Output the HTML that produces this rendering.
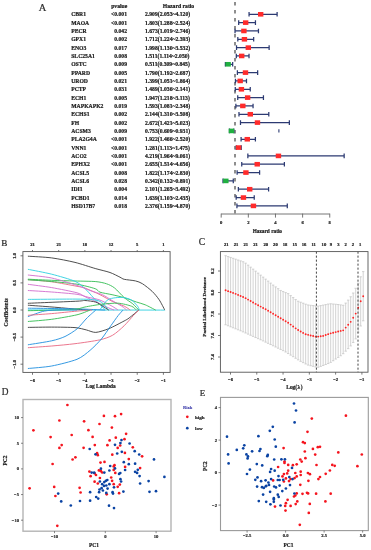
<!DOCTYPE html><html><head><meta charset="utf-8"><style>html,body{margin:0;padding:0;background:#fff;width:371px;height:550px;overflow:hidden}svg{display:block;will-change:transform}text{font-family:"Liberation Serif", serif;stroke:#1a1a1a;stroke-width:0.2px}</style></head><body>
<svg width="371" height="550" viewBox="0 0 371 550">
<rect width="371" height="550" fill="#fff"/>
<text x="42.5" y="10.5" font-size="10.4" text-anchor="middle" font-weight="normal" fill="#333">A</text>
<text x="119.2" y="7.9" font-size="5.7" text-anchor="middle" font-weight="bold" fill="#222">pvalue</text>
<text x="178.5" y="8.2" font-size="5.7" text-anchor="middle" font-weight="bold" fill="#222">Hazard ratio</text>
<g font-size="5.7" font-weight="bold" fill="#222">
<text x="71.2" y="16.3">CBR1</text>
<text x="127" y="16.3" text-anchor="end">&lt;0.001</text>
<text x="145" y="16.3">2.909(2.053~4.120)</text>
<text x="71.2" y="24.63">MAOA</text>
<text x="127" y="24.63" text-anchor="end">&lt;0.001</text>
<text x="145" y="24.63">1.803(1.288~2.524)</text>
<text x="71.2" y="32.96">PECR</text>
<text x="127" y="32.96" text-anchor="end">0.042</text>
<text x="145" y="32.96">1.673(1.019~2.746)</text>
<text x="71.2" y="41.29">GPX1</text>
<text x="127" y="41.29" text-anchor="end">0.002</text>
<text x="145" y="41.29">1.712(1.224~2.393)</text>
<text x="71.2" y="49.62">ENO3</text>
<text x="127" y="49.62" text-anchor="end">0.017</text>
<text x="145" y="49.62">1.998(1.130~3.532)</text>
<text x="71.2" y="57.95">SLC25A1</text>
<text x="127" y="57.95" text-anchor="end">0.008</text>
<text x="145" y="57.95">1.511(1.114~2.050)</text>
<text x="71.2" y="66.28">OSTC</text>
<text x="127" y="66.28" text-anchor="end">0.009</text>
<text x="145" y="66.28">0.511(0.309~0.845)</text>
<text x="71.2" y="74.61">PPARD</text>
<text x="127" y="74.61" text-anchor="end">0.005</text>
<text x="145" y="74.61">1.790(1.192~2.687)</text>
<text x="71.2" y="82.94">UROD</text>
<text x="127" y="82.94" text-anchor="end">0.021</text>
<text x="145" y="82.94">1.399(1.051~1.864)</text>
<text x="71.2" y="91.27">PCTP</text>
<text x="127" y="91.27" text-anchor="end">0.031</text>
<text x="145" y="91.27">1.489(1.036~2.141)</text>
<text x="71.2" y="99.6">ECH1</text>
<text x="127" y="99.6" text-anchor="end">0.005</text>
<text x="145" y="99.6">1.947(1.218~3.113)</text>
<text x="71.2" y="107.93">MAPKAPK2</text>
<text x="127" y="107.93" text-anchor="end">0.019</text>
<text x="145" y="107.93">1.593(1.081~2.348)</text>
<text x="71.2" y="116.26">ECHS1</text>
<text x="127" y="116.26" text-anchor="end">0.002</text>
<text x="145" y="116.26">2.144(1.310~3.508)</text>
<text x="71.2" y="124.59">FH</text>
<text x="127" y="124.59" text-anchor="end">0.002</text>
<text x="145" y="124.59">2.672(1.421~5.023)</text>
<text x="71.2" y="132.92">ACSM3</text>
<text x="127" y="132.92" text-anchor="end">0.009</text>
<text x="145" y="132.92">0.753(0.609~0.931)</text>
<text x="71.2" y="141.25">PLA2G4A</text>
<text x="127" y="141.25" text-anchor="end">&lt;0.001</text>
<text x="145" y="141.25">1.922(1.466~2.520)</text>
<text x="71.2" y="149.58">VNN1</text>
<text x="127" y="149.58" text-anchor="end">&lt;0.001</text>
<text x="145" y="149.58">1.281(1.113~1.475)</text>
<text x="71.2" y="157.91">ACO2</text>
<text x="127" y="157.91" text-anchor="end">&lt;0.001</text>
<text x="145" y="157.91">4.219(1.964~9.061)</text>
<text x="71.2" y="166.24">EPHX2</text>
<text x="127" y="166.24" text-anchor="end">&lt;0.001</text>
<text x="145" y="166.24">2.655(1.514~4.656)</text>
<text x="71.2" y="174.57">ACSL5</text>
<text x="127" y="174.57" text-anchor="end">0.008</text>
<text x="145" y="174.57">1.822(1.174~2.830)</text>
<text x="71.2" y="182.9">ACSL6</text>
<text x="127" y="182.9" text-anchor="end">0.028</text>
<text x="145" y="182.9">0.342(0.132~0.891)</text>
<text x="71.2" y="191.23">IDI1</text>
<text x="127" y="191.23" text-anchor="end">0.004</text>
<text x="145" y="191.23">2.101(1.265~3.492)</text>
<text x="71.2" y="199.56">PCBD1</text>
<text x="127" y="199.56" text-anchor="end">0.014</text>
<text x="145" y="199.56">1.639(1.103~2.435)</text>
<text x="71.2" y="207.89">HSD17B7</text>
<text x="127" y="207.89" text-anchor="end">0.018</text>
<text x="145" y="207.89">2.376(1.159~4.870)</text>
</g>
<line x1="235" y1="2" x2="235" y2="214" stroke="#444" stroke-width="1.2" stroke-dasharray="3.6 4.4"/>
<path d="M249.06 14.3H277.11M249.06 12V16.6M277.11 12V16.6" stroke="#2c3a72" stroke-width="1.25" fill="none"/>
<rect x="257.98" y="12" width="5.4" height="4.6" fill="#ff2b2b"/>
<path d="M238.68 22.63H255.45M238.68 20.33V24.93M255.45 20.33V24.93" stroke="#2c3a72" stroke-width="1.25" fill="none"/>
<rect x="242.97" y="20.33" width="5.4" height="4.6" fill="#ff2b2b"/>
<path d="M235.03 30.96H258.46M235.03 28.66V33.26M258.46 28.66V33.26" stroke="#2c3a72" stroke-width="1.25" fill="none"/>
<rect x="241.2" y="28.66" width="5.4" height="4.6" fill="#ff2b2b"/>
<path d="M237.81 39.29H253.67M237.81 36.99V41.59M253.67 36.99V41.59" stroke="#2c3a72" stroke-width="1.25" fill="none"/>
<rect x="241.73" y="36.99" width="5.4" height="4.6" fill="#ff2b2b"/>
<path d="M236.53 47.62H269.13M236.53 45.32V49.92M269.13 45.32V49.92" stroke="#2c3a72" stroke-width="1.25" fill="none"/>
<rect x="245.61" y="45.32" width="5.4" height="4.6" fill="#ff2b2b"/>
<path d="M236.32 55.95H249.02M236.32 53.65V58.25M249.02 53.65V58.25" stroke="#2c3a72" stroke-width="1.25" fill="none"/>
<rect x="239" y="53.65" width="5.4" height="4.6" fill="#ff2b2b"/>
<path d="M225.39 64.28H232.67M225.39 61.98V66.58M232.67 61.98V66.58" stroke="#2c3a72" stroke-width="1.25" fill="none"/>
<rect x="225.43" y="61.98" width="5.4" height="4.6" fill="#20b040"/>
<path d="M237.38 72.61H257.66M237.38 70.31V74.91M257.66 70.31V74.91" stroke="#2c3a72" stroke-width="1.25" fill="none"/>
<rect x="242.79" y="70.31" width="5.4" height="4.6" fill="#ff2b2b"/>
<path d="M235.46 80.94H246.49M235.46 78.64V83.24M246.49 78.64V83.24" stroke="#2c3a72" stroke-width="1.25" fill="none"/>
<rect x="237.48" y="78.64" width="5.4" height="4.6" fill="#ff2b2b"/>
<path d="M235.26 89.27H250.25M235.26 86.97V91.57M250.25 86.97V91.57" stroke="#2c3a72" stroke-width="1.25" fill="none"/>
<rect x="238.71" y="86.97" width="5.4" height="4.6" fill="#ff2b2b"/>
<path d="M237.73 97.6H263.44M237.73 95.3V99.9M263.44 95.3V99.9" stroke="#2c3a72" stroke-width="1.25" fill="none"/>
<rect x="244.92" y="95.3" width="5.4" height="4.6" fill="#ff2b2b"/>
<path d="M235.87 105.93H253.06M235.87 103.63V108.23M253.06 103.63V108.23" stroke="#2c3a72" stroke-width="1.25" fill="none"/>
<rect x="240.12" y="103.63" width="5.4" height="4.6" fill="#ff2b2b"/>
<path d="M238.98 114.26H268.8M238.98 111.96V116.56M268.8 111.96V116.56" stroke="#2c3a72" stroke-width="1.25" fill="none"/>
<rect x="247.59" y="111.96" width="5.4" height="4.6" fill="#ff2b2b"/>
<path d="M240.48 122.59H289.36M240.48 120.29V124.89M289.36 120.29V124.89" stroke="#2c3a72" stroke-width="1.25" fill="none"/>
<rect x="254.76" y="120.29" width="5.4" height="4.6" fill="#ff2b2b"/>
<path d="M229.46 130.92H233.83M229.46 128.62V133.22M233.83 128.62V133.22" stroke="#2c3a72" stroke-width="1.25" fill="none"/>
<rect x="228.72" y="128.62" width="5.4" height="4.6" fill="#20b040"/>
<path d="M241.09 139.25H255.4M241.09 136.95V141.55M255.4 136.95V141.55" stroke="#2c3a72" stroke-width="1.25" fill="none"/>
<rect x="244.58" y="136.95" width="5.4" height="4.6" fill="#ff2b2b"/>
<path d="M236.3 147.58H241.22M236.3 145.28V149.88M241.22 145.28V149.88" stroke="#2c3a72" stroke-width="1.25" fill="none"/>
<rect x="235.88" y="145.28" width="5.4" height="4.6" fill="#ff2b2b"/>
<path d="M247.85 155.91H344.16M247.85 153.61V158.21M344.16 153.61V158.21" stroke="#2c3a72" stroke-width="1.25" fill="none"/>
<rect x="275.75" y="153.61" width="5.4" height="4.6" fill="#ff2b2b"/>
<path d="M241.74 164.24H284.38M241.74 161.94V166.54M284.38 161.94V166.54" stroke="#2c3a72" stroke-width="1.25" fill="none"/>
<rect x="254.53" y="161.94" width="5.4" height="4.6" fill="#ff2b2b"/>
<path d="M237.13 172.57H259.6M237.13 170.27V174.87M259.6 170.27V174.87" stroke="#2c3a72" stroke-width="1.25" fill="none"/>
<rect x="243.22" y="170.27" width="5.4" height="4.6" fill="#ff2b2b"/>
<path d="M222.99 180.9H233.29M222.99 178.6V183.2M233.29 178.6V183.2" stroke="#2c3a72" stroke-width="1.25" fill="none"/>
<rect x="223.14" y="178.6" width="5.4" height="4.6" fill="#20b040"/>
<path d="M238.37 189.23H268.59M238.37 186.93V191.53M268.59 186.93V191.53" stroke="#2c3a72" stroke-width="1.25" fill="none"/>
<rect x="247.01" y="186.93" width="5.4" height="4.6" fill="#ff2b2b"/>
<path d="M236.17 197.56H254.24M236.17 195.26V199.86M254.24 195.26V199.86" stroke="#2c3a72" stroke-width="1.25" fill="none"/>
<rect x="240.74" y="195.26" width="5.4" height="4.6" fill="#ff2b2b"/>
<path d="M236.93 205.89H287.29M236.93 203.59V208.19M287.29 203.59V208.19" stroke="#2c3a72" stroke-width="1.25" fill="none"/>
<rect x="250.74" y="203.59" width="5.4" height="4.6" fill="#ff2b2b"/>
<line x1="278.9" y1="129.32" x2="278.9" y2="132.52" stroke="#2c3a72" stroke-width="1.1"/>
<line x1="221.2" y1="214" x2="329.76" y2="214" stroke="#666" stroke-width="0.9"/>
<line x1="221.2" y1="213.6" x2="221.2" y2="217.6" stroke="#666" stroke-width="0.9"/>
<text x="221.2" y="224.3" font-size="4.6" text-anchor="middle" font-weight="bold" fill="#222">0</text>
<line x1="248.34" y1="213.6" x2="248.34" y2="217.6" stroke="#666" stroke-width="0.9"/>
<text x="248.34" y="224.3" font-size="4.6" text-anchor="middle" font-weight="bold" fill="#222">2</text>
<line x1="275.48" y1="213.6" x2="275.48" y2="217.6" stroke="#666" stroke-width="0.9"/>
<text x="275.48" y="224.3" font-size="4.6" text-anchor="middle" font-weight="bold" fill="#222">4</text>
<line x1="302.62" y1="213.6" x2="302.62" y2="217.6" stroke="#666" stroke-width="0.9"/>
<text x="302.62" y="224.3" font-size="4.6" text-anchor="middle" font-weight="bold" fill="#222">6</text>
<line x1="329.76" y1="213.6" x2="329.76" y2="217.6" stroke="#666" stroke-width="0.9"/>
<text x="329.76" y="224.3" font-size="4.6" text-anchor="middle" font-weight="bold" fill="#222">8</text>
<text x="267.4" y="233" font-size="5.3" text-anchor="middle" font-weight="bold" fill="#222">Hazard ratio</text>
<text x="4.2" y="245.8" font-size="9.2" text-anchor="middle" font-weight="normal" fill="#333">B</text>
<g fill="none" stroke-width="0.95">
<path d="M27.9 309.9C46.15 309.93 146.55 310.07 164.8 310.1" stroke="#38d2e2"/>
<path d="M27.9 256.2C31.07 256.43 45.42 257.07 51.7 257.9C57.98 258.73 69.2 260.99 75 262.4C80.8 263.81 90.53 267.15 95.2 268.5C99.87 269.85 106.69 271.34 110 272.5C113.31 273.66 118.11 276.29 120 277.2C121.89 278.11 122.15 278.81 124.2 279.3C126.25 279.79 132.97 280.31 135.4 280.9C137.83 281.49 140.16 282.3 142.4 283.7C144.64 285.1 149.96 289.25 152.2 291.4C154.44 293.55 157.52 297.31 159.2 299.8C160.88 302.29 164.05 308.73 164.8 310.1" stroke="#444444"/>
<path d="M27.9 279.6C31.07 279.89 45.15 280.91 51.7 281.8C58.25 282.69 72.56 285.46 77 286.3C81.44 287.14 81.93 286.98 85 288.1C88.07 289.22 96.39 292.94 100 294.7C103.61 296.46 108.86 299.77 112.1 301.3C115.34 302.83 121.87 305.03 124.3 306.2C126.73 307.37 129.5 309.58 130.3 310.1" stroke="#ea7088"/>
<path d="M27.9 279.2C31.07 279.35 45.42 280.06 51.7 280.3C57.98 280.54 69.12 280.83 75 281C80.88 281.17 91.59 281.23 95.8 281.6C100.01 281.97 104.09 282.95 106.6 283.8C109.11 284.65 112.24 286.15 114.6 288C116.96 289.85 121.89 295.59 124.3 297.7C126.71 299.81 130.77 302.15 132.7 303.8C134.63 305.45 137.99 309.26 138.8 310.1" stroke="#3cc05a"/>
<path d="M27.9 279.8C31.07 280.03 45.15 280.91 51.7 281.5C58.25 282.09 71.2 283.24 77 284.2C82.8 285.16 92.13 287.63 95.2 288.7C98.27 289.77 97.75 291.4 100 292.2C102.25 293 108.86 293.97 112.1 294.7C115.34 295.43 121.06 296.73 124.3 297.7C127.54 298.67 133.61 301.05 136.4 302C139.19 302.95 142.63 303.72 145.2 304.8C147.77 305.88 154.3 309.39 155.7 310.1" stroke="#3cc05a"/>
<path d="M27.9 269.3C31.07 269.95 45.42 272.6 51.7 274.2C57.98 275.8 70.56 279.38 75 281.3C79.44 283.22 82.8 286.69 85 288.6C87.2 290.51 89.78 293.73 91.5 295.6C93.22 297.47 96.03 300.67 97.9 302.6C99.77 304.53 104.49 309.1 105.5 310.1" stroke="#38d2e2"/>
<path d="M27.9 275C31.07 275.4 45.15 276.61 51.7 278C58.25 279.39 71.89 283.73 77 285.4C82.11 287.07 86.61 289.26 90 290.5C93.39 291.74 99.47 293.37 102.4 294.7C105.33 296.03 109.41 298.97 112 300.5C114.59 302.03 119.84 304.92 121.8 306.2C123.76 307.48 126.05 309.58 126.7 310.1" stroke="#d474d0"/>
<path d="M27.9 284.3C31.07 284.74 45.15 286.47 51.7 287.6C58.25 288.73 72.56 291.59 77 292.8C81.44 294.01 82.49 295.53 85 296.7C87.51 297.87 92.92 300.23 95.8 301.6C98.68 302.97 104.16 305.87 106.6 307C109.04 308.13 113.1 309.69 114.1 310.1" stroke="#d474d0"/>
<path d="M27.9 290.5C31.07 290.7 45.15 291.49 51.7 292C58.25 292.51 72.16 293.61 77 294.3C81.84 294.99 84.93 296.43 88 297.2C91.07 297.97 96.79 298.9 100 300.1C103.21 301.3 109.67 304.87 112.1 306.2C114.53 307.53 117.39 309.58 118.2 310.1" stroke="#d474d0"/>
<path d="M27.9 299.4C34.45 299.36 67.95 299.02 77 299.1C86.05 299.18 92.33 299.41 95.8 300C99.27 300.59 101.31 302.15 103 303.5C104.69 304.85 107.77 309.22 108.5 310.1" stroke="#38d2e2"/>
<path d="M100 309.8C100.97 308.51 105.19 301.71 107.3 300.1C109.41 298.49 113.53 298.02 115.8 297.7C118.07 297.38 122.21 297.38 124.3 297.7C126.39 298.02 129.73 298.97 131.5 300.1C133.27 301.23 136.55 304.87 137.6 306.2C138.65 307.53 139.16 309.58 139.4 310.1" stroke="#38d2e2"/>
<path d="M27.9 303.3C34.45 303.02 69.39 301.57 77 301.2C84.61 300.83 82.49 300.38 85 300.5C87.51 300.62 93.49 301.38 95.8 302.1C98.11 302.82 100.58 304.83 102.3 305.9C104.02 306.97 107.85 309.54 108.7 310.1" stroke="#444444"/>
<path d="M27.9 305.2C31.11 305.44 45.45 306.47 52 307C58.55 307.53 72.2 308.79 77 309.2C81.8 309.61 86.53 309.98 88 310.1" stroke="#444444"/>
<path d="M27.9 308.2C34.45 308.29 66.73 308.65 77 308.9C87.27 309.15 101.18 309.94 104.9 310.1" stroke="#2b95e0"/>
<path d="M27.9 310.7C32.18 310.61 53.45 310.23 60 310C66.55 309.77 73.67 309.4 77 309C80.33 308.6 81.77 307.63 85 307C88.23 306.37 96.77 304.81 101.2 304.3C105.63 303.79 114.16 302.95 118.2 303.2C122.24 303.45 129.07 305.28 131.5 306.2C133.93 307.12 135.75 309.58 136.4 310.1" stroke="#3cc05a"/>
<path d="M27.9 316.6C30.07 315.87 39.92 311.99 44.2 311.1C48.48 310.21 55.63 310.03 60 309.9C64.37 309.77 74.73 310.07 77 310.1" stroke="#2b95e0"/>
<path d="M27.9 315.3C31.07 315.07 45.15 314.16 51.7 313.6C58.25 313.04 71.63 311.57 77 311.1C82.37 310.63 90 310.23 92 310.1" stroke="#ea7088"/>
<path d="M27.9 321.5C31.07 321.21 45.15 320.19 51.7 319.3C58.25 318.41 71.89 316.03 77 314.8C82.11 313.57 88.27 310.73 90 310.1" stroke="#3cc05a"/>
<path d="M27.9 327.4C31.07 327.36 45.42 327.07 51.7 327.1C57.98 327.13 70.39 327.23 75 327.6C79.61 327.97 83.53 329.26 86.3 329.9C89.07 330.54 92.77 332.57 95.8 332.4C98.83 332.23 105.23 330.12 109 328.6C112.77 327.08 121.42 322.41 124.1 321C126.78 319.59 127.14 319.45 129.1 318C131.06 316.55 137.51 311.15 138.8 310.1" stroke="#444444"/>
<path d="M27.9 344.8C31.07 344.27 46.75 341.91 51.7 340.8C56.65 339.69 61.63 338.09 65 336.5C68.37 334.91 74.2 331.23 77 328.9C79.8 326.57 84.07 321.01 86 319C87.93 316.99 90.19 314.99 91.5 313.8C92.81 312.61 95.23 310.59 95.8 310.1" stroke="#2b95e0"/>
<path d="M27.9 347.7C31.07 347.47 45.42 346.53 51.7 346C57.98 345.47 68.63 344.51 75 343.7C81.37 342.89 94.47 341.03 99.5 339.9C104.53 338.77 109.42 337.08 112.7 335.2C115.98 333.32 121.33 328.44 124.1 325.8C126.87 323.16 131.54 317.49 133.5 315.4C135.46 313.31 138.09 310.81 138.8 310.1" stroke="#ea7088"/>
<path d="M27.9 368.5C31.07 368.17 45.15 367.23 51.7 366C58.25 364.77 71.88 361.39 77 359.3C82.12 357.21 86.85 353.01 90.1 350.3C93.35 347.59 98.64 342.27 101.4 339C104.16 335.73 108.56 328.93 110.8 325.8C113.04 322.67 116.57 317.59 118.2 315.5C119.83 313.41 122.36 310.82 123 310.1" stroke="#2b95e0"/>
</g>
<rect x="22.9" y="251.6" width="147.2" height="120.8" fill="none" stroke="#555" stroke-width="0.9"/>
<path d="M32.5 372.4V374.8M32.5 251.6V250M58.68 372.4V374.8M58.68 251.6V250M84.86 372.4V374.8M84.86 251.6V250M111.04 372.4V374.8M111.04 251.6V250M137.22 372.4V374.8M137.22 251.6V250M163.4 372.4V374.8M163.4 251.6V250M22.9 255.8H20.5M22.9 282.9H20.5M22.9 310H20.5M22.9 337.1H20.5M22.9 364.2H20.5" stroke="#555" stroke-width="0.8"/>
<g font-size="4.6" font-weight="bold" fill="#222">
<text x="32.5" y="245.9" text-anchor="middle">21</text>
<text x="32.5" y="381.6" text-anchor="middle">&#8722;6</text>
<text x="58.68" y="245.9" text-anchor="middle">21</text>
<text x="58.68" y="381.6" text-anchor="middle">&#8722;5</text>
<text x="84.86" y="245.9" text-anchor="middle">18</text>
<text x="84.86" y="381.6" text-anchor="middle">&#8722;4</text>
<text x="111.04" y="245.9" text-anchor="middle">12</text>
<text x="111.04" y="381.6" text-anchor="middle">&#8722;3</text>
<text x="137.22" y="245.9" text-anchor="middle">5</text>
<text x="137.22" y="381.6" text-anchor="middle">&#8722;2</text>
<text x="163.4" y="245.9" text-anchor="middle">1</text>
<text x="163.4" y="381.6" text-anchor="middle">&#8722;1</text>
<text x="16.3" y="255.8" text-anchor="middle" transform="rotate(-90 16.3 255.8)">1.0</text>
<text x="16.3" y="282.9" text-anchor="middle" transform="rotate(-90 16.3 282.9)">0.5</text>
<text x="16.3" y="310" text-anchor="middle" transform="rotate(-90 16.3 310)">0.0</text>
<text x="16.3" y="337.1" text-anchor="middle" transform="rotate(-90 16.3 337.1)">&#8722;0.5</text>
<text x="16.3" y="364.2" text-anchor="middle" transform="rotate(-90 16.3 364.2)">&#8722;1.0</text>
</g>
<text x="8.4" y="312.4" font-size="5.6" text-anchor="middle" font-weight="bold" fill="#222" transform="rotate(-90 8.4 312.4)">Coefficients</text>
<text x="100.7" y="388.4" font-size="5.4" text-anchor="middle" font-weight="bold" fill="#222">Log Lambda</text>
<text x="202" y="245.4" font-size="9.6" text-anchor="middle" font-weight="normal" fill="#333">C</text>
<path d="M225.6 255.7V324.78M224.4 255.7H226.8M224.4 324.78H226.8M228.1 256.56V325.78M226.9 256.56H229.3M226.9 325.78H229.3M230.6 257.43V326.79M229.4 257.43H231.8M229.4 326.79H231.8M233.11 258.29V327.79M231.91 258.29H234.31M231.91 327.79H234.31M235.61 259.16V328.8M234.41 259.16H236.81M234.41 328.8H236.81M238.11 260.02V329.8M236.91 260.02H239.31M236.91 329.8H239.31M240.61 260.89V330.8M239.41 260.89H241.81M239.41 330.8H241.81M243.11 261.75V331.88M241.91 261.75H244.31M241.91 331.88H244.31M245.61 263.17V333.01M244.41 263.17H246.81M244.41 333.01H246.81M248.12 265.16V334.14M246.92 265.16H249.32M246.92 334.14H249.32M250.62 267.16V335.27M249.42 267.16H251.82M249.42 335.27H251.82M253.12 269.15V336.4M251.92 269.15H254.32M251.92 336.4H254.32M255.62 271.15V337.53M254.42 271.15H256.82M254.42 337.53H256.82M258.12 273.15V338.65M256.92 273.15H259.32M256.92 338.65H259.32M260.63 275.14V339.78M259.43 275.14H261.83M259.43 339.78H261.83M263.13 277.13V340.91M261.93 277.13H264.33M261.93 340.91H264.33M265.63 279.13V342.13M264.43 279.13H266.83M264.43 342.13H266.83M268.13 281.12V343.35M266.93 281.12H269.33M266.93 343.35H269.33M270.63 283.11V344.56M269.43 283.11H271.83M269.43 344.56H271.83M273.13 285.1V345.78M271.93 285.1H274.33M271.93 345.78H274.33M275.64 286.88V346.99M274.44 286.88H276.84M274.44 346.99H276.84M278.14 288.66V348.21M276.94 288.66H279.34M276.94 348.21H279.34M280.64 290.44V349.43M279.44 290.44H281.84M279.44 349.43H281.84M283.14 291.57V350.64M281.94 291.57H284.34M281.94 350.64H284.34M285.64 292.6V351.99M284.44 292.6H286.84M284.44 351.99H286.84M288.15 293.64V353.56M286.95 293.64H289.35M286.95 353.56H289.35M290.65 295.62V355.13M289.45 295.62H291.85M289.45 355.13H291.85M293.15 297.61V356.7M291.95 297.61H294.35M291.95 356.7H294.35M295.65 299.59V358.27M294.45 299.59H296.85M294.45 358.27H296.85M298.15 301.23V359.84M296.95 301.23H299.35M296.95 359.84H299.35M300.65 302.22V361.34M299.45 302.22H301.85M299.45 361.34H301.85M303.16 303.2V362.64M301.96 303.2H304.36M301.96 362.64H304.36M305.66 304.18V363.94M304.46 304.18H306.86M304.46 363.94H306.86M308.16 304.98V365.07M306.96 304.98H309.36M306.96 365.07H309.36M310.66 305.3V365.71M309.46 305.3H311.86M309.46 365.71H311.86M313.16 305.62V366.34M311.96 305.62H314.36M311.96 366.34H314.36M315.67 305.94V366.98M314.47 305.94H316.87M314.47 366.98H316.87M318.17 306.11V367.32M316.97 306.11H319.37M316.97 367.32H319.37M320.67 305.61V366.38M319.47 305.61H321.87M319.47 366.38H321.87M323.17 305.12V365.44M321.97 305.12H324.37M321.97 365.44H324.37M325.67 304.61V364.49M324.47 304.61H326.87M324.47 364.49H326.87M328.17 304.07V363.55M326.97 304.07H329.37M326.97 363.55H329.37M330.68 303.78V362.38M329.48 303.78H331.88M329.48 362.38H331.88M333.18 304.02V360.72M331.98 304.02H334.38M331.98 360.72H334.38M335.68 304.27V359.06M334.48 304.27H336.88M334.48 359.06H336.88M338.18 304.53V357.4M336.98 304.53H339.38M336.98 357.4H339.38M340.68 304.9V355.74M339.48 304.9H341.88M339.48 355.74H341.88M343.19 305.27V353.7M341.99 305.27H344.39M341.99 353.7H344.39M345.69 303.1V351.17M344.49 303.1H346.89M344.49 351.17H346.89M348.19 300.11V348.64M346.99 300.11H349.39M346.99 348.64H349.39M350.69 296.75V345.92M349.49 296.75H351.89M349.49 345.92H351.89M353.19 293.03V342.47M351.99 293.03H354.39M351.99 342.47H354.39M355.69 288.31V338.91M354.49 288.31H356.89M354.49 338.91H356.89M358.2 283.2V332.21M357 283.2H359.4M357 332.21H359.4M360.7 276.8V326M359.5 276.8H361.9M359.5 326H361.9M363.2 271.6V320.8M362 271.6H364.4M362 320.8H364.4" stroke="#c4c4c4" stroke-width="0.75" fill="none"/>
<g fill="#ff2222">
<circle cx="225.6" cy="290.3" r="0.95"/>
<circle cx="228.1" cy="291.13" r="0.95"/>
<circle cx="230.6" cy="292.03" r="0.95"/>
<circle cx="233.11" cy="292.92" r="0.95"/>
<circle cx="235.61" cy="293.86" r="0.95"/>
<circle cx="238.11" cy="294.91" r="0.95"/>
<circle cx="240.61" cy="295.96" r="0.95"/>
<circle cx="243.11" cy="297.01" r="0.95"/>
<circle cx="245.61" cy="298.15" r="0.95"/>
<circle cx="248.12" cy="299.59" r="0.95"/>
<circle cx="250.62" cy="301.03" r="0.95"/>
<circle cx="253.12" cy="302.46" r="0.95"/>
<circle cx="255.62" cy="303.9" r="0.95"/>
<circle cx="258.12" cy="305.25" r="0.95"/>
<circle cx="260.63" cy="306.59" r="0.95"/>
<circle cx="263.13" cy="307.94" r="0.95"/>
<circle cx="265.63" cy="309.28" r="0.95"/>
<circle cx="268.13" cy="310.73" r="0.95"/>
<circle cx="270.63" cy="312.25" r="0.95"/>
<circle cx="273.13" cy="313.77" r="0.95"/>
<circle cx="275.64" cy="315.29" r="0.95"/>
<circle cx="278.14" cy="316.8" r="0.95"/>
<circle cx="280.64" cy="318.28" r="0.95"/>
<circle cx="283.14" cy="319.76" r="0.95"/>
<circle cx="285.64" cy="321.24" r="0.95"/>
<circle cx="288.15" cy="322.73" r="0.95"/>
<circle cx="290.65" cy="324.6" r="0.95"/>
<circle cx="293.15" cy="326.47" r="0.95"/>
<circle cx="295.65" cy="328.34" r="0.95"/>
<circle cx="298.15" cy="329.99" r="0.95"/>
<circle cx="300.65" cy="331.44" r="0.95"/>
<circle cx="303.16" cy="332.9" r="0.95"/>
<circle cx="305.66" cy="334.26" r="0.95"/>
<circle cx="308.16" cy="334.86" r="0.95"/>
<circle cx="310.66" cy="335.47" r="0.95"/>
<circle cx="313.16" cy="336.07" r="0.95"/>
<circle cx="315.67" cy="336.67" r="0.95"/>
<circle cx="318.17" cy="336.58" r="0.95"/>
<circle cx="320.67" cy="336.31" r="0.95"/>
<circle cx="323.17" cy="335.9" r="0.95"/>
<circle cx="325.67" cy="335.02" r="0.95"/>
<circle cx="328.17" cy="334.14" r="0.95"/>
<circle cx="330.68" cy="333.33" r="0.95"/>
<circle cx="333.18" cy="332.71" r="0.95"/>
<circle cx="335.68" cy="332.08" r="0.95"/>
<circle cx="338.18" cy="331.46" r="0.95"/>
<circle cx="340.68" cy="330.9" r="0.95"/>
<circle cx="343.19" cy="330.35" r="0.95"/>
<circle cx="345.69" cy="327.6" r="0.95"/>
<circle cx="348.19" cy="324.81" r="0.95"/>
<circle cx="350.69" cy="321.83" r="0.95"/>
<circle cx="353.19" cy="317.75" r="0.95"/>
<circle cx="355.69" cy="313.61" r="0.95"/>
<circle cx="358.2" cy="307.7" r="0.95"/>
<circle cx="360.7" cy="301.3" r="0.95"/>
<circle cx="363.2" cy="296.3" r="0.95"/>
</g>
<line x1="316.4" y1="251.6" x2="316.4" y2="372.2" stroke="#3a3a3a" stroke-width="0.95" stroke-dasharray="2.1 1.9"/>
<line x1="358" y1="251.6" x2="358" y2="372.2" stroke="#3a3a3a" stroke-width="0.95" stroke-dasharray="2.1 1.9"/>
<rect x="220.4" y="251.6" width="147.6" height="120.6" fill="none" stroke="#555" stroke-width="0.9"/>
<path d="M230.5 372.2V374.6M256.78 372.2V374.6M283.06 372.2V374.6M309.34 372.2V374.6M335.62 372.2V374.6M361.9 372.2V374.6M220.4 357H218M220.4 335.5H218M220.4 314H218M220.4 292.5H218M220.4 271H218" stroke="#555" stroke-width="0.8"/>
<g font-size="4.6" font-weight="bold" fill="#222">
<text x="226.2" y="245.6" text-anchor="middle">21</text>
<text x="236.1" y="245.6" text-anchor="middle">21</text>
<text x="245.8" y="245.6" text-anchor="middle">21</text>
<text x="255.5" y="245.6" text-anchor="middle">21</text>
<text x="265.7" y="245.6" text-anchor="middle">20</text>
<text x="275.4" y="245.6" text-anchor="middle">20</text>
<text x="285.1" y="245.6" text-anchor="middle">18</text>
<text x="294.7" y="245.6" text-anchor="middle">15</text>
<text x="304" y="245.6" text-anchor="middle">16</text>
<text x="313.7" y="245.6" text-anchor="middle">11</text>
<text x="323.9" y="245.6" text-anchor="middle">10</text>
<text x="331" y="245.6" text-anchor="middle">9</text>
<text x="338.5" y="245.6" text-anchor="middle">3</text>
<text x="345.6" y="245.6" text-anchor="middle">2</text>
<text x="353" y="245.6" text-anchor="middle">2</text>
<text x="360.1" y="245.6" text-anchor="middle">1</text>
<text x="230.5" y="381.4" text-anchor="middle">&#8722;6</text>
<text x="256.78" y="381.4" text-anchor="middle">&#8722;5</text>
<text x="283.06" y="381.4" text-anchor="middle">&#8722;4</text>
<text x="309.34" y="381.4" text-anchor="middle">&#8722;3</text>
<text x="335.62" y="381.4" text-anchor="middle">&#8722;2</text>
<text x="361.9" y="381.4" text-anchor="middle">&#8722;1</text>
<text x="213.9" y="357" text-anchor="middle" transform="rotate(-90 213.9 357)">7.4</text>
<text x="213.9" y="335.5" text-anchor="middle" transform="rotate(-90 213.9 335.5)">7.6</text>
<text x="213.9" y="314" text-anchor="middle" transform="rotate(-90 213.9 314)">7.8</text>
<text x="213.9" y="292.5" text-anchor="middle" transform="rotate(-90 213.9 292.5)">8.0</text>
<text x="213.9" y="271" text-anchor="middle" transform="rotate(-90 213.9 271)">8.2</text>
</g>
<text x="205.8" y="306.8" font-size="5" text-anchor="middle" font-weight="bold" fill="#222" transform="rotate(-90 205.8 306.8)">Partial Likelihood Deviance</text>
<text x="294.4" y="388.9" font-size="5.4" text-anchor="middle" font-weight="bold" fill="#222">Log(&#8202;&#955;&#8202;)</text>
<rect x="23" y="399.5" width="148" height="131.7" fill="none" stroke="#b4b4b4" stroke-width="1.4"/>
<path d="M54.5 531.2V533.2M105.3 531.2V533.2M156.1 531.2V533.2M23 417.6H21M23 443.25H21M23 468.9H21M23 494.55H21M23 520.2H21" stroke="#555" stroke-width="0.7"/>
<g font-size="4.6" font-weight="bold" fill="#444" style="stroke-width:0.05px">
<text x="19" y="419.1" text-anchor="end">10</text>
<text x="19" y="444.75" text-anchor="end">5</text>
<text x="19" y="470.4" text-anchor="end">0</text>
<text x="19" y="496.05" text-anchor="end">&#8722;5</text>
<text x="19" y="521.7" text-anchor="end">&#8722;10</text>
<text x="54.5" y="538" text-anchor="middle">&#8722;10</text>
<text x="105.3" y="538" text-anchor="middle">0</text>
<text x="156.1" y="538" text-anchor="middle">10</text>
</g>
<text x="5.2" y="394.8" font-size="9.3" text-anchor="middle" font-weight="normal" fill="#333">D</text>
<text x="94" y="546.9" font-size="5.4" text-anchor="middle" font-weight="bold" fill="#222">PC1</text>
<text x="7.4" y="460.5" font-size="5.4" text-anchor="middle" font-weight="bold" fill="#222" transform="rotate(-90 7.4 460.5)">PC2</text>
<g fill="#f5141e">
<circle cx="33.4" cy="430.3" r="1.35"/>
<circle cx="50.6" cy="437.1" r="1.35"/>
<circle cx="52.6" cy="464" r="1.35"/>
<circle cx="59.4" cy="420.5" r="1.35"/>
<circle cx="59.4" cy="447.9" r="1.35"/>
<circle cx="61.7" cy="445.1" r="1.35"/>
<circle cx="67.4" cy="405" r="1.35"/>
<circle cx="71.7" cy="435" r="1.35"/>
<circle cx="72.6" cy="459.5" r="1.35"/>
<circle cx="75.4" cy="457.3" r="1.35"/>
<circle cx="83.6" cy="447.8" r="1.35"/>
<circle cx="84.1" cy="421.3" r="1.35"/>
<circle cx="88.4" cy="430.2" r="1.35"/>
<circle cx="92.6" cy="436.9" r="1.35"/>
<circle cx="94.8" cy="445.1" r="1.35"/>
<circle cx="97.1" cy="453.2" r="1.35"/>
<circle cx="97.8" cy="455.2" r="1.35"/>
<circle cx="99.5" cy="424" r="1.35"/>
<circle cx="103.9" cy="415.9" r="1.35"/>
<circle cx="107.4" cy="445.2" r="1.35"/>
<circle cx="109.6" cy="440.4" r="1.35"/>
<circle cx="111.9" cy="427.6" r="1.35"/>
<circle cx="115" cy="416.2" r="1.35"/>
<circle cx="115.8" cy="437.7" r="1.35"/>
<circle cx="120.2" cy="445.5" r="1.35"/>
<circle cx="117.7" cy="447.9" r="1.35"/>
<circle cx="121.1" cy="414.1" r="1.35"/>
<circle cx="124.5" cy="439.2" r="1.35"/>
<circle cx="124.9" cy="452.9" r="1.35"/>
<circle cx="126.1" cy="433.8" r="1.35"/>
<circle cx="112.3" cy="454.7" r="1.35"/>
<circle cx="128.8" cy="459.1" r="1.35"/>
<circle cx="132.8" cy="447.3" r="1.35"/>
<circle cx="142.1" cy="456.3" r="1.35"/>
<circle cx="100.5" cy="462.6" r="1.35"/>
<circle cx="104.5" cy="461.9" r="1.35"/>
<circle cx="113.7" cy="466.4" r="1.35"/>
<circle cx="114.5" cy="465.2" r="1.35"/>
<circle cx="125.1" cy="466.9" r="1.35"/>
<circle cx="113.7" cy="469.9" r="1.35"/>
<circle cx="98.9" cy="470.4" r="1.35"/>
<circle cx="100.9" cy="471.2" r="1.35"/>
<circle cx="102.2" cy="472.5" r="1.35"/>
<circle cx="89.4" cy="471.6" r="1.35"/>
<circle cx="94.6" cy="473.3" r="1.35"/>
<circle cx="96" cy="475" r="1.35"/>
<circle cx="90.6" cy="476.2" r="1.35"/>
<circle cx="115.3" cy="472.9" r="1.35"/>
<circle cx="99.9" cy="478" r="1.35"/>
<circle cx="111.2" cy="477.5" r="1.35"/>
<circle cx="140.1" cy="468.1" r="1.35"/>
<circle cx="29.6" cy="488.3" r="1.35"/>
<circle cx="54.2" cy="486.9" r="1.35"/>
<circle cx="55.4" cy="496" r="1.35"/>
<circle cx="57.3" cy="525.8" r="1.35"/>
<circle cx="79.6" cy="487.8" r="1.35"/>
<circle cx="80.6" cy="492.5" r="1.35"/>
<circle cx="94.6" cy="481.7" r="1.35"/>
<circle cx="97.8" cy="483.5" r="1.35"/>
<circle cx="112.1" cy="480.8" r="1.35"/>
<circle cx="113.7" cy="484.2" r="1.35"/>
<circle cx="119.8" cy="484.6" r="1.35"/>
<circle cx="117.7" cy="486.8" r="1.35"/>
<circle cx="106.7" cy="494.3" r="1.35"/>
<circle cx="119.1" cy="493.2" r="1.35"/>
</g><g fill="#0a43a3">
<circle cx="89.7" cy="449" r="1.35"/>
<circle cx="95.5" cy="454.3" r="1.35"/>
<circle cx="121.5" cy="440.1" r="1.35"/>
<circle cx="120.4" cy="443.1" r="1.35"/>
<circle cx="115" cy="444.8" r="1.35"/>
<circle cx="129.6" cy="443.5" r="1.35"/>
<circle cx="121.8" cy="451.8" r="1.35"/>
<circle cx="117.2" cy="453.5" r="1.35"/>
<circle cx="123.8" cy="462.2" r="1.35"/>
<circle cx="128.8" cy="464.2" r="1.35"/>
<circle cx="110.2" cy="466" r="1.35"/>
<circle cx="115" cy="468.4" r="1.35"/>
<circle cx="109.4" cy="470.5" r="1.35"/>
<circle cx="125.1" cy="470" r="1.35"/>
<circle cx="100.9" cy="468.7" r="1.35"/>
<circle cx="104.3" cy="472.6" r="1.35"/>
<circle cx="91.7" cy="472.6" r="1.35"/>
<circle cx="94.2" cy="472.7" r="1.35"/>
<circle cx="119.1" cy="473.9" r="1.35"/>
<circle cx="120.3" cy="473" r="1.35"/>
<circle cx="120.4" cy="479.2" r="1.35"/>
<circle cx="107.3" cy="480" r="1.35"/>
<circle cx="134.7" cy="451.2" r="1.35"/>
<circle cx="139.2" cy="454.5" r="1.35"/>
<circle cx="154" cy="459.4" r="1.35"/>
<circle cx="135.1" cy="463.7" r="1.35"/>
<circle cx="137.8" cy="469.8" r="1.35"/>
<circle cx="135.1" cy="471.8" r="1.35"/>
<circle cx="137.1" cy="472.9" r="1.35"/>
<circle cx="139.6" cy="476.1" r="1.35"/>
<circle cx="164.4" cy="476.9" r="1.35"/>
<circle cx="148.6" cy="481.1" r="1.35"/>
<circle cx="140.1" cy="483.5" r="1.35"/>
<circle cx="149.5" cy="491.8" r="1.35"/>
<circle cx="156" cy="491.2" r="1.35"/>
<circle cx="99.9" cy="481.5" r="1.35"/>
<circle cx="104.3" cy="482.1" r="1.35"/>
<circle cx="105.9" cy="480.8" r="1.35"/>
<circle cx="121.1" cy="481.5" r="1.35"/>
<circle cx="102.2" cy="484.2" r="1.35"/>
<circle cx="104" cy="485.9" r="1.35"/>
<circle cx="106.3" cy="485.5" r="1.35"/>
<circle cx="109.4" cy="484.2" r="1.35"/>
<circle cx="114" cy="487.3" r="1.35"/>
<circle cx="107.6" cy="488.6" r="1.35"/>
<circle cx="101.6" cy="488.2" r="1.35"/>
<circle cx="99.5" cy="489.5" r="1.35"/>
<circle cx="102.9" cy="490.5" r="1.35"/>
<circle cx="99.1" cy="492.2" r="1.35"/>
<circle cx="106.3" cy="492.9" r="1.35"/>
<circle cx="112.6" cy="492.2" r="1.35"/>
<circle cx="113" cy="493.6" r="1.35"/>
<circle cx="123.4" cy="491.6" r="1.35"/>
<circle cx="90.1" cy="492.2" r="1.35"/>
<circle cx="96.2" cy="497" r="1.35"/>
<circle cx="98.2" cy="498.6" r="1.35"/>
<circle cx="80" cy="501" r="1.35"/>
<circle cx="90.1" cy="500.7" r="1.35"/>
<circle cx="109" cy="505.7" r="1.35"/>
<circle cx="114" cy="508.1" r="1.35"/>
<circle cx="58.2" cy="493.6" r="1.35"/>
<circle cx="61.2" cy="501.4" r="1.35"/>
<circle cx="70.8" cy="505.5" r="1.35"/>
</g>
<text x="187.6" y="408.8" font-size="5" text-anchor="middle" font-weight="normal" fill="#3c3caa" style="stroke:#3c3caa">Risk</text>
<circle cx="187.3" cy="416.8" r="1.35" fill="#f5141e"/>
<circle cx="187.3" cy="428.2" r="1.35" fill="#0a43a3"/>
<text x="195" y="418.5" font-size="5" text-anchor="start" font-weight="bold" fill="#333">high</text>
<text x="195" y="429.8" font-size="5" text-anchor="start" font-weight="bold" fill="#333">low</text>
<rect x="220.5" y="397.4" width="147.8" height="133.2" fill="none" stroke="#9a9a9a" stroke-width="1.1"/>
<path d="M247.08 530.6V532.6M285.6 530.6V532.6M324.12 530.6V532.6M362.65 530.6V532.6M220.5 407.6H218.5M220.5 440.1H218.5M220.5 472.6H218.5M220.5 505.1H218.5" stroke="#555" stroke-width="0.7"/>
<g font-size="4.6" font-weight="bold" fill="#444" style="stroke-width:0.05px">
<text x="217" y="409.1" text-anchor="end">4</text>
<text x="217" y="441.6" text-anchor="end">2</text>
<text x="217" y="474.1" text-anchor="end">0</text>
<text x="217" y="506.6" text-anchor="end">&#8722;2</text>
<text x="247.08" y="537.2" text-anchor="middle">&#8722;2.5</text>
<text x="285.6" y="537.2" text-anchor="middle">0.0</text>
<text x="324.12" y="537.2" text-anchor="middle">2.5</text>
<text x="362.65" y="537.2" text-anchor="middle">5.0</text>
</g>
<text x="202.5" y="395.6" font-size="9" text-anchor="middle" font-weight="normal" fill="#333">E</text>
<text x="288.5" y="546.5" font-size="5.4" text-anchor="middle" font-weight="bold" fill="#222">PC1</text>
<text x="206.6" y="466.2" font-size="5.1" text-anchor="middle" font-weight="bold" fill="#222" transform="rotate(-90 206.6 466.2)">PC2</text>
<g fill="#f5141e">
<circle cx="311.8" cy="418.6" r="1.35"/>
<circle cx="307.5" cy="431.8" r="1.35"/>
<circle cx="303" cy="442.2" r="1.35"/>
<circle cx="304.8" cy="443.1" r="1.35"/>
<circle cx="345.9" cy="415.7" r="1.35"/>
<circle cx="312.9" cy="448.9" r="1.35"/>
<circle cx="317.8" cy="447.2" r="1.35"/>
<circle cx="320" cy="446.8" r="1.35"/>
<circle cx="338.3" cy="452.4" r="1.35"/>
<circle cx="315.2" cy="454.6" r="1.35"/>
<circle cx="361.8" cy="454.5" r="1.35"/>
<circle cx="283.6" cy="448.1" r="1.35"/>
<circle cx="304.8" cy="451.5" r="1.35"/>
<circle cx="284.5" cy="461.6" r="1.35"/>
<circle cx="284.5" cy="462.9" r="1.35"/>
<circle cx="305.4" cy="458.2" r="1.35"/>
<circle cx="300.3" cy="459.5" r="1.35"/>
<circle cx="301.7" cy="461.6" r="1.35"/>
<circle cx="288.2" cy="464.9" r="1.35"/>
<circle cx="292.9" cy="465.2" r="1.35"/>
<circle cx="296.7" cy="464.3" r="1.35"/>
<circle cx="278.1" cy="467" r="1.35"/>
<circle cx="288.2" cy="470.7" r="1.35"/>
<circle cx="287.2" cy="473.4" r="1.35"/>
<circle cx="283.9" cy="474.1" r="1.35"/>
<circle cx="295.3" cy="473" r="1.35"/>
<circle cx="300.7" cy="471.7" r="1.35"/>
<circle cx="300.7" cy="475" r="1.35"/>
<circle cx="307.9" cy="473" r="1.35"/>
<circle cx="309.9" cy="474.2" r="1.35"/>
<circle cx="282.5" cy="476.4" r="1.35"/>
<circle cx="296.7" cy="476.4" r="1.35"/>
<circle cx="294.6" cy="478.1" r="1.35"/>
<circle cx="285.9" cy="478.4" r="1.35"/>
<circle cx="290.6" cy="479.1" r="1.35"/>
<circle cx="273.1" cy="480.4" r="1.35"/>
<circle cx="283.9" cy="481.5" r="1.35"/>
<circle cx="289" cy="481.1" r="1.35"/>
<circle cx="308.4" cy="480.8" r="1.35"/>
<circle cx="300.3" cy="484.8" r="1.35"/>
<circle cx="316.5" cy="465" r="1.35"/>
<circle cx="332.3" cy="464.9" r="1.35"/>
<circle cx="334.7" cy="465.8" r="1.35"/>
<circle cx="357.4" cy="466.2" r="1.35"/>
<circle cx="329.9" cy="470.5" r="1.35"/>
<circle cx="325.7" cy="473.8" r="1.35"/>
<circle cx="320" cy="477" r="1.35"/>
<circle cx="318.4" cy="479.1" r="1.35"/>
<circle cx="316.1" cy="493.7" r="1.35"/>
<circle cx="330.7" cy="493.7" r="1.35"/>
<circle cx="325.4" cy="501.4" r="1.35"/>
<circle cx="275" cy="506.6" r="1.35"/>
<circle cx="296.7" cy="493.4" r="1.35"/>
<circle cx="302.5" cy="493.8" r="1.35"/>
<circle cx="307" cy="492.8" r="1.35"/>
<circle cx="308.1" cy="493.4" r="1.35"/>
<circle cx="294" cy="496.5" r="1.35"/>
<circle cx="295.3" cy="495.5" r="1.35"/>
<circle cx="287.6" cy="499.8" r="1.35"/>
<circle cx="297.3" cy="501.4" r="1.35"/>
<circle cx="285.9" cy="503.2" r="1.35"/>
<circle cx="285.2" cy="505.9" r="1.35"/>
<circle cx="290.6" cy="505.9" r="1.35"/>
<circle cx="295.7" cy="504.1" r="1.35"/>
<circle cx="309.8" cy="503.9" r="1.35"/>
<circle cx="285.5" cy="510.6" r="1.35"/>
<circle cx="308.8" cy="512.9" r="1.35"/>
<circle cx="299.8" cy="524.8" r="1.35"/>
</g><g fill="#0a43a3">
<circle cx="227" cy="436.7" r="1.35"/>
<circle cx="258.4" cy="436.2" r="1.35"/>
<circle cx="269.8" cy="430.8" r="1.35"/>
<circle cx="244.3" cy="445.3" r="1.35"/>
<circle cx="243.2" cy="448.3" r="1.35"/>
<circle cx="236.8" cy="449.9" r="1.35"/>
<circle cx="252.1" cy="451.3" r="1.35"/>
<circle cx="260.4" cy="449" r="1.35"/>
<circle cx="259.5" cy="451" r="1.35"/>
<circle cx="228.1" cy="454.4" r="1.35"/>
<circle cx="246.4" cy="454.4" r="1.35"/>
<circle cx="248" cy="456.4" r="1.35"/>
<circle cx="247.6" cy="458.4" r="1.35"/>
<circle cx="267.8" cy="454.9" r="1.35"/>
<circle cx="267.3" cy="456.2" r="1.35"/>
<circle cx="228.6" cy="463.4" r="1.35"/>
<circle cx="256.8" cy="464.1" r="1.35"/>
<circle cx="262.2" cy="465.4" r="1.35"/>
<circle cx="249.9" cy="469.6" r="1.35"/>
<circle cx="294" cy="403.5" r="1.35"/>
<circle cx="296" cy="410.5" r="1.35"/>
<circle cx="294.6" cy="422.4" r="1.35"/>
<circle cx="272.8" cy="426.8" r="1.35"/>
<circle cx="274.7" cy="439.5" r="1.35"/>
<circle cx="275.8" cy="446.7" r="1.35"/>
<circle cx="274.2" cy="459.5" r="1.35"/>
<circle cx="281.4" cy="459.3" r="1.35"/>
<circle cx="284.9" cy="459.3" r="1.35"/>
<circle cx="292" cy="467.9" r="1.35"/>
<circle cx="271.1" cy="469" r="1.35"/>
<circle cx="270.1" cy="471.9" r="1.35"/>
<circle cx="274.7" cy="470.7" r="1.35"/>
<circle cx="278.5" cy="476.1" r="1.35"/>
<circle cx="289.3" cy="477.1" r="1.35"/>
<circle cx="292.6" cy="479.1" r="1.35"/>
<circle cx="271.1" cy="479.1" r="1.35"/>
<circle cx="277.8" cy="480" r="1.35"/>
<circle cx="279.6" cy="480" r="1.35"/>
<circle cx="283.2" cy="479.8" r="1.35"/>
<circle cx="265.6" cy="480.3" r="1.35"/>
<circle cx="268.4" cy="482.5" r="1.35"/>
<circle cx="269" cy="484.9" r="1.35"/>
<circle cx="274.2" cy="486.5" r="1.35"/>
<circle cx="276" cy="487.4" r="1.35"/>
<circle cx="279.6" cy="485.6" r="1.35"/>
<circle cx="290" cy="485.1" r="1.35"/>
<circle cx="285.9" cy="488.5" r="1.35"/>
<circle cx="266.3" cy="485.8" r="1.35"/>
<circle cx="247" cy="474" r="1.35"/>
<circle cx="257.5" cy="477.4" r="1.35"/>
<circle cx="255.3" cy="479.8" r="1.35"/>
<circle cx="261.1" cy="481.2" r="1.35"/>
<circle cx="257.1" cy="486.6" r="1.35"/>
<circle cx="262" cy="487.2" r="1.35"/>
<circle cx="263.8" cy="487.9" r="1.35"/>
<circle cx="265.8" cy="486.3" r="1.35"/>
<circle cx="263.1" cy="494.6" r="1.35"/>
<circle cx="270.1" cy="491.8" r="1.35"/>
<circle cx="258.8" cy="501.1" r="1.35"/>
<circle cx="266.2" cy="501.8" r="1.35"/>
<circle cx="270.4" cy="504.3" r="1.35"/>
<circle cx="282.3" cy="491.1" r="1.35"/>
<circle cx="294.4" cy="493.5" r="1.35"/>
<circle cx="277.8" cy="494.7" r="1.35"/>
<circle cx="278.7" cy="496.9" r="1.35"/>
<circle cx="273.8" cy="498.2" r="1.35"/>
<circle cx="273.8" cy="499.6" r="1.35"/>
<circle cx="273.8" cy="501.8" r="1.35"/>
<circle cx="280.5" cy="505.5" r="1.35"/>
</g>
</svg></body></html>
